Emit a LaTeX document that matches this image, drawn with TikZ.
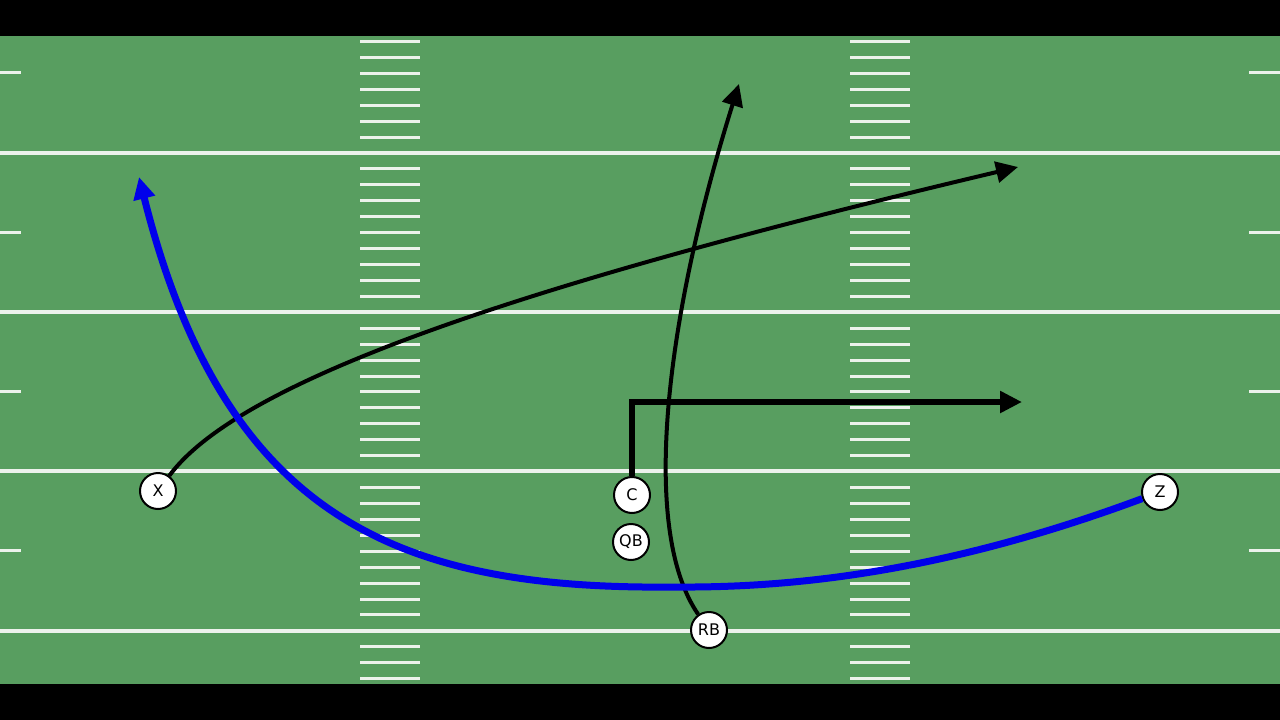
\documentclass[tikz,border=0pt]{standalone}
\usepackage{fontspec}
\setmainfont{DejaVu Sans}
\usepackage{tikz}
\usetikzlibrary{arrows.meta}
\definecolor{turf}{RGB}{88,158,96}
\definecolor{chalk}{RGB}{236,242,236}
\definecolor{routeblue}{RGB}{0,0,235}

\begin{document}
\begin{tikzpicture}[x=1pt,y=-1pt,
  player/.style={circle,draw,line width=2pt,fill=white,minimum size=36pt,inner sep=0pt,font=\fontsize{16}{16}\selectfont},
  route/.style={line width=4pt,-{Triangle[length=22pt,width=21pt]}},
  yardline/.style={chalk,line width=4pt},
  hash/.style={chalk,line width=3pt}]
\useasboundingbox (0,0) rectangle (1280,720);
\fill[black] (-2,-2) rectangle (1282,722);
\fill[turf] (-2,36) rectangle (1282,684);
% field
\foreach \y in {153,312,471,631}
  \draw[yardline] (-2,\y) -- (1282,\y);
\foreach \k in {-7,...,33}{
  \draw[hash] (360,153+15.93*\k) -- (420,153+15.93*\k);
  \draw[hash] (850,153+15.93*\k) -- (910,153+15.93*\k);
}
\foreach \y in {72,232,391,550}{
  \draw[hash] (-2,\y) -- (21,\y);
  \draw[hash] (1249,\y) -- (1282,\y);
}
% players
\node[player] (X) at (158,491) {X};
\node[player] (C) at (632,495) {C};
\node[player] (QB) at (631,542) {QB};
\node[player] (RB) at (709,630) {RB};
\node[player] (Z) at (1160,492) {Z};
\coordinate (xend) at (1018,167);
\coordinate (rbend) at (739,84);
\coordinate (cend) at (1022,402);
\coordinate (zdip) at (675,587);
\coordinate (zend) at (139,177);
% routes
\draw[route] (X) .. controls (240,380) and (520,285) .. (xend);
\draw[route] (RB) .. controls (640,530) and (665,320) .. (rbend);
\draw[route,line width=6pt] (C.north) |- (cend);
\draw[route,routeblue,line width=7pt] (Z) .. controls (950,570) and (800,588) .. (zdip)
  .. controls (400,590) and (225,520) .. (zend);
\end{tikzpicture}
\end{document}
